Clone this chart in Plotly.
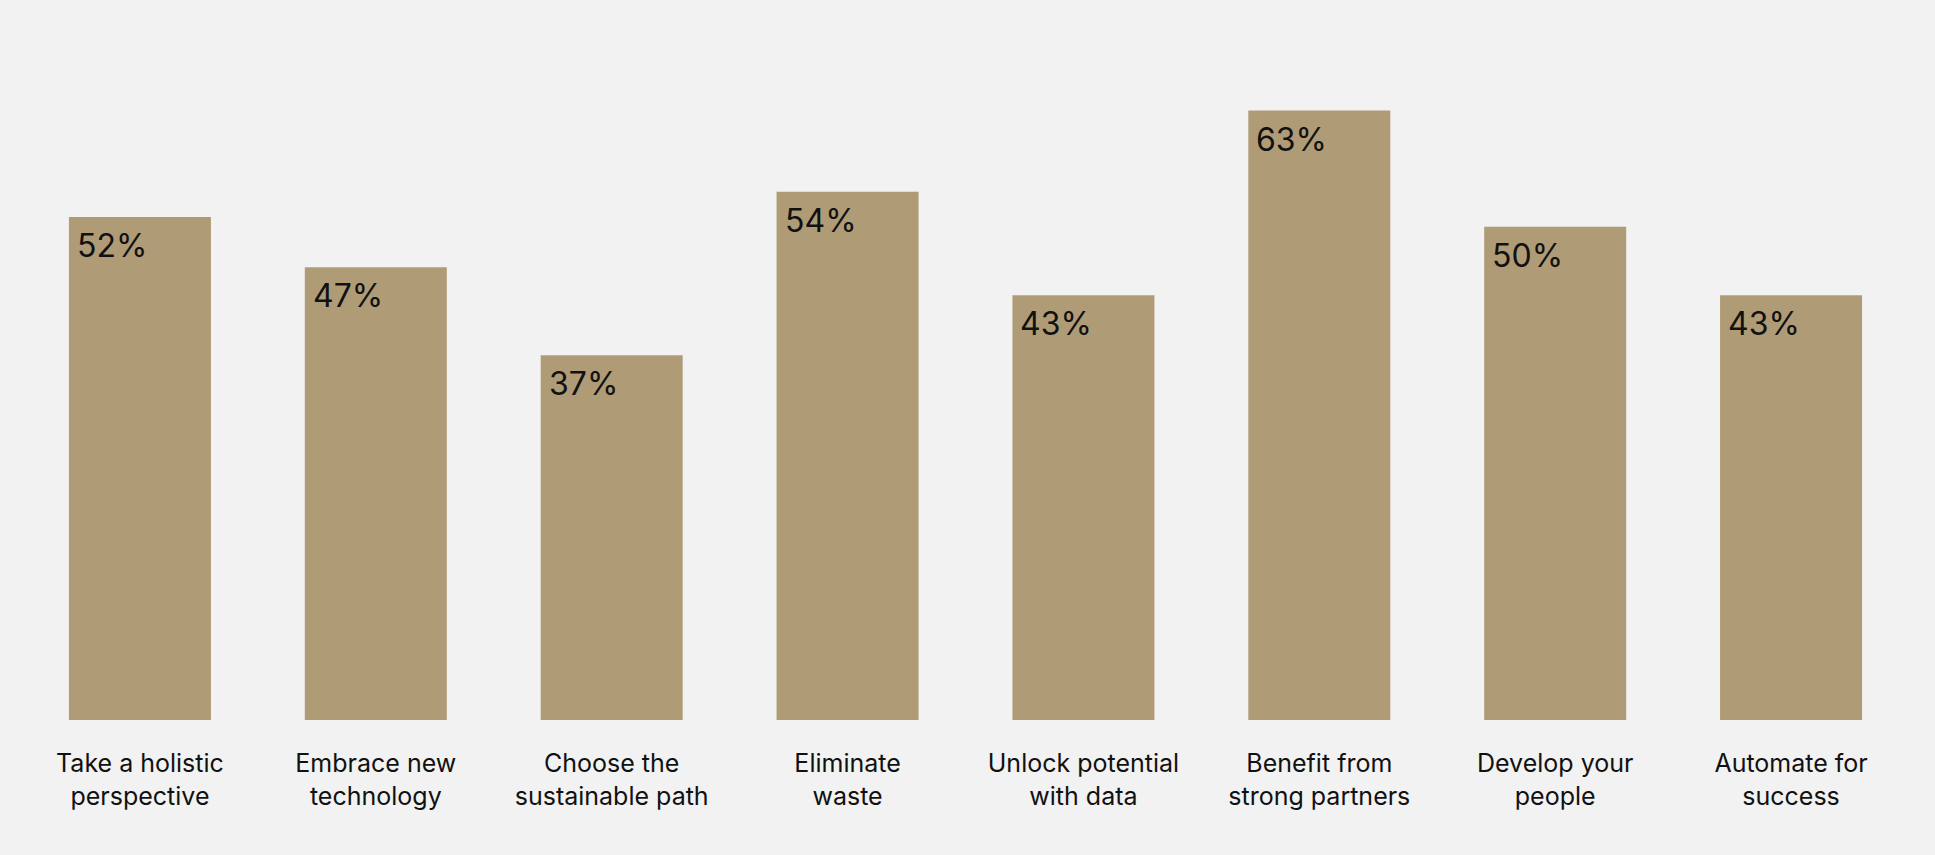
import plotly.graph_objects as go

categories = ["Take a holistic<br>perspective", "Embrace new<br>technology", "Choose the<br>sustainable path",
              "Eliminate<br>waste", "Unlock potential<br>with data", "Benefit from<br>strong partners",
              "Develop your<br>people", "Automate for<br>success"]
values = [52, 46.8, 37.7, 54.6, 43.9, 63, 51.0, 43.9]
labels = ["52%", "47%", "37%", "54%", "43%", "63%", "50%", "43%"]

BAR = "#AF9C77"
BG = "#F2F2F2"
FONT = "Inter, Liberation Sans, sans-serif"
width = 0.602
xs = list(range(len(categories)))

fig = go.Figure(go.Bar(x=xs, y=values, width=width, marker=dict(color=BAR, line=dict(width=0)),
                       hoverinfo="skip"))

for x, v, t in zip(xs, values, labels):
    fig.add_annotation(x=x - width / 2, y=v, text=t, showarrow=False, xanchor="left", yanchor="top",
                       xshift=6, yshift=-7, font=dict(family=FONT, size=32, color="#111111"))

fig.update_layout(
    width=1935, height=855, paper_bgcolor=BG, plot_bgcolor=BG,
    margin=dict(l=22, r=26, t=40, b=135), showlegend=False,
    font=dict(family=FONT, color="#111111"),
)
fig.update_xaxes(range=[-0.5, 7.5], tickmode="array", tickvals=xs, ticktext=categories,
                 tickfont=dict(size=25, family=FONT, color="#111111"), showgrid=False, zeroline=False,
                 showline=False, ticks="", ticklabelstandoff=26)
fig.update_yaxes(range=[0, 70.3], visible=False, showgrid=False, zeroline=False)

fig.write_html("out.html")
